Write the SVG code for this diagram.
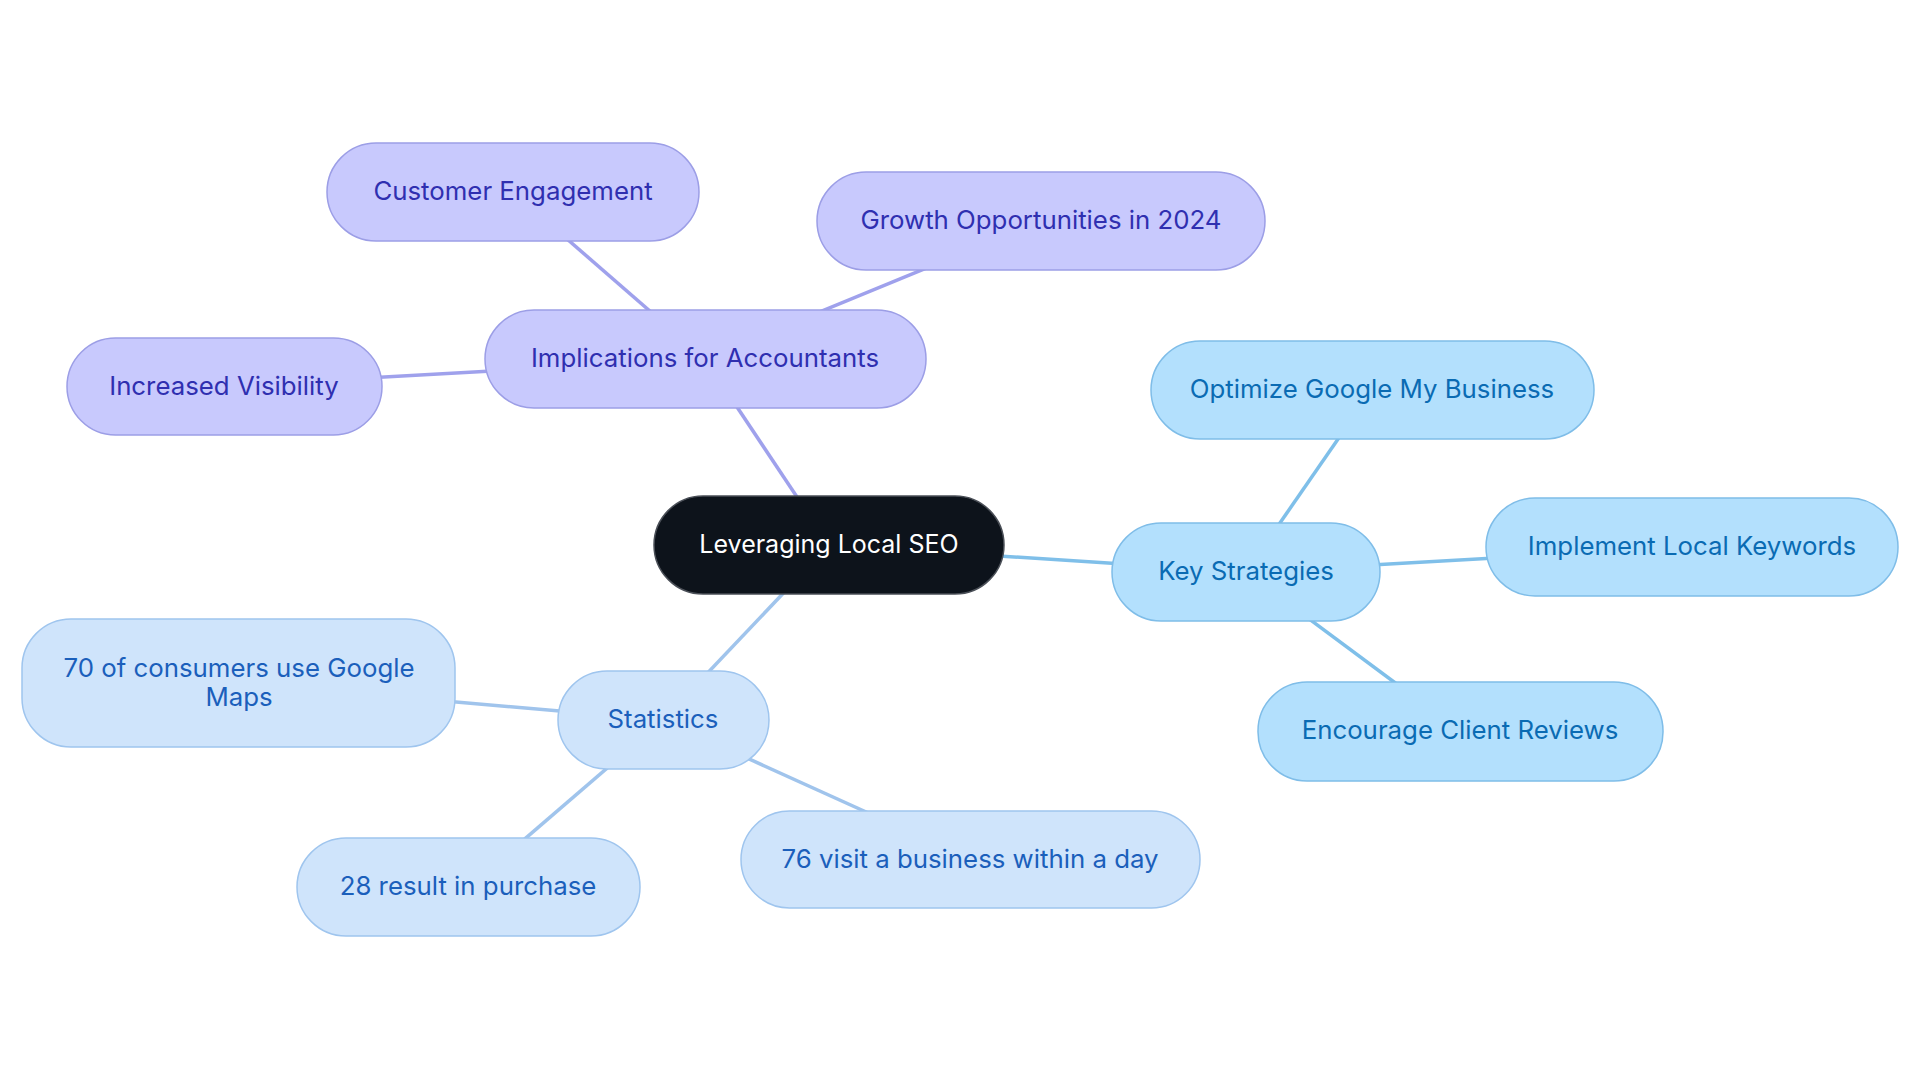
<svg xmlns="http://www.w3.org/2000/svg" width="1920" height="1083" viewBox="0 0 1920 1083">
<style>
.t{font-family:Inter,"Noto Sans","Liberation Sans",sans-serif;font-size:25.8px;text-anchor:middle;dominant-baseline:central}
.c .t{font-size:25px}
.p rect{fill:#c8c9fd;stroke:#9c9ee6;stroke-width:1.5}
.p text{fill:#2f2fb0}
.k rect{fill:#b3e0fd;stroke:#7fbde8;stroke-width:1.5}
.k text{fill:#0a6bb3}
.s rect{fill:#cfe4fb;stroke:#9fc5ee;stroke-width:1.5}
.s text{fill:#1b5fbb}
.c rect{fill:#0d131b;stroke:#4a4f57;stroke-width:1.5}
.c text{fill:#ffffff}
.lp{stroke:#9fa1ec;stroke-width:3.5}
.lk{stroke:#7fbfe9;stroke-width:3.5}
.ls{stroke:#a0c4ec;stroke-width:3.5}
</style>
<rect width="1920" height="1083" fill="#ffffff"/>
<g id="connectors">
<line class="lp" x1="829" y1="545" x2="705" y2="359"/>
<line class="lp" x1="705" y1="359" x2="513" y2="192"/>
<line class="lp" x1="705" y1="359" x2="1041" y2="221"/>
<line class="lp" x1="705" y1="359" x2="225" y2="386"/>
<line class="lk" x1="829" y1="545" x2="1246" y2="572"/>
<line class="lk" x1="1246" y1="572" x2="1372" y2="390"/>
<line class="lk" x1="1246" y1="572" x2="1692" y2="547"/>
<line class="lk" x1="1246" y1="572" x2="1460" y2="731"/>
<line class="ls" x1="829" y1="545" x2="663" y2="720"/>
<line class="ls" x1="663" y1="720" x2="239" y2="683"/>
<line class="ls" x1="663" y1="720" x2="469" y2="887"/>
<line class="ls" x1="663" y1="720" x2="970" y2="859"/>
</g>
<g id="n-central" class="c"><rect x="654" y="496" width="350" height="98" rx="49"/><text class="t" x="829" y="544">Leveraging Local SEO</text></g>
<g id="n-implications" class="p"><rect x="485" y="310" width="441" height="98" rx="49"/><text class="t" x="705" y="357">Implications for Accountants</text></g>
<g id="n-customer" class="p"><rect x="327" y="143" width="372" height="98" rx="49"/><text class="t" x="513" y="190">Customer Engagement</text></g>
<g id="n-growth" class="p"><rect x="817" y="172" width="448" height="98" rx="49"/><text class="t" x="1041" y="219">Growth Opportunities in 2024</text></g>
<g id="n-visibility" class="p"><rect x="67" y="338" width="315" height="97" rx="48.5"/><text class="t" x="224" y="385">Increased Visibility</text></g>
<g id="n-key" class="k"><rect x="1112" y="523" width="268" height="98" rx="49"/><text class="t" x="1246" y="570">Key Strategies</text></g>
<g id="n-optimize" class="k"><rect x="1151" y="341" width="443" height="98" rx="49"/><text class="t" x="1372" y="388">Optimize Google My Business</text></g>
<g id="n-keywords" class="k"><rect x="1486" y="498" width="412" height="98" rx="49"/><text class="t" x="1692" y="545">Implement Local Keywords</text></g>
<g id="n-reviews" class="k"><rect x="1258" y="682" width="405" height="99" rx="49"/><text class="t" x="1460" y="729">Encourage Client Reviews</text></g>
<g id="n-statistics" class="s"><rect x="558" y="671" width="211" height="98" rx="49"/><text class="t" x="663" y="718">Statistics</text></g>
<g id="n-70" class="s"><rect x="22" y="619" width="433" height="128" rx="49"/><text class="t" x="239" y="667">70 of consumers use Google</text><text class="t" x="239" y="696">Maps</text></g>
<g id="n-28" class="s"><rect x="297" y="838" width="343" height="98" rx="49"/><text class="t" x="468" y="885">28 result in purchase</text></g>
<g id="n-76" class="s"><rect x="741" y="811" width="459" height="97" rx="48.5"/><text class="t" x="970" y="858">76 visit a business within a day</text></g>
</svg>
